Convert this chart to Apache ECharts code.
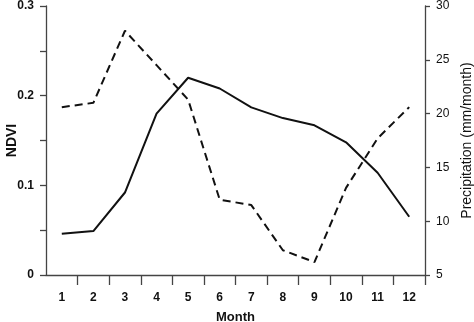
<!DOCTYPE html>
<html>
<head>
<meta charset="utf-8">
<script src="https://cdn.jsdelivr.net/npm/echarts@6/dist/echarts.min.js"></script>
<style>
  html, body { margin: 0; padding: 0; background: #fff; }
  #chart { width: 474px; height: 322px; }
</style>
</head>
<body>
<div id="chart"></div>
<script>
// Monthly NDVI and precipitation
const months = ['1', '2', '3', '4', '5', '6', '7', '8', '9', '10', '11', '12'];
const ndvi = [0.046, 0.049, 0.092, 0.180, 0.220, 0.208, 0.187, 0.175, 0.167, 0.148, 0.114, 0.065];
const precipitation = [20.6, 21.0, 27.7, 24.5, 21.3, 12.0, 11.5, 7.3, 6.2, 13.1, 17.7, 20.6];

const ink = '#111';
const axisColor = '#444';
const font = 'Liberation Sans, Arial, Helvetica, sans-serif';

const chart = echarts.init(document.getElementById('chart'), null, { renderer: 'canvas' });
chart.setOption({
  animation: false,
  backgroundColor: '#fff',
  grid: { left: 46, right: 49, top: 6, bottom: 47, containLabel: false, outerBoundsMode: 'none' },
  xAxis: {
    type: 'category',
    data: months,
    boundaryGap: true,
    name: 'Month',
    nameLocation: 'middle',
    nameGap: 36,
    nameMoveOverlap: false,
    nameTextStyle: { fontFamily: font, fontSize: 13, fontWeight: 'bold', color: ink },
    axisLine: { lineStyle: { color: axisColor, width: 1.3 } },
    axisTick: {
      show: true,
      length: 10,
      inside: false,
      // no tick at the left corner, where the NDVI axis starts
      interval: function (index) { return index !== 0; },
      lineStyle: { color: axisColor, width: 1.3 }
    },
    axisLabel: { margin: 17, fontFamily: font, fontSize: 12, fontWeight: 'bold', color: ink },
    splitLine: { show: false }
  },
  yAxis: [
    {
      type: 'value',
      min: 0,
      max: 0.3,
      interval: 0.05,
      position: 'left',
      name: 'NDVI',
      nameLocation: 'middle',
      nameRotate: 90,
      nameGap: 27,
      nameMoveOverlap: false,
      nameTextStyle: { fontFamily: font, fontSize: 14, fontWeight: 'bold', color: ink },
      axisLine: { show: true, lineStyle: { color: axisColor, width: 1.3 } },
      axisTick: { show: true, length: 6, lineStyle: { color: axisColor, width: 1.3 } },
      axisLabel: {
        margin: 12,
        fontFamily: font,
        fontSize: 12,
        fontWeight: 'bold',
        color: ink,
        formatter: function (v) {
          const t = Math.round(v * 100);
          return t % 10 === 0 ? String(t / 100) : '';
        }
      },
      splitLine: { show: false }
    },
    {
      type: 'value',
      min: 5,
      max: 30,
      interval: 5,
      position: 'right',
      name: 'Precipitation (mm/month)',
      nameLocation: 'middle',
      nameRotate: 90,
      nameGap: 35,
      nameMoveOverlap: false,
      nameTextStyle: { fontFamily: font, fontSize: 14, color: ink },
      axisLine: { show: true, lineStyle: { color: axisColor, width: 1.3 } },
      axisTick: { show: true, length: 5, lineStyle: { color: axisColor, width: 1.3 } },
      axisLabel: { margin: 11, fontFamily: font, fontSize: 12, color: ink },
      splitLine: { show: false }
    }
  ],
  series: [
    {
      name: 'NDVI',
      type: 'line',
      yAxisIndex: 0,
      data: ndvi,
      symbol: 'none',
      lineStyle: { color: '#111', width: 2, type: 'solid' }
    },
    {
      name: 'Precipitation',
      type: 'line',
      yAxisIndex: 1,
      data: precipitation,
      symbol: 'none',
      lineStyle: { color: '#111', width: 2, type: [8, 5] }
    }
  ]
});
</script>
</body>
</html>
